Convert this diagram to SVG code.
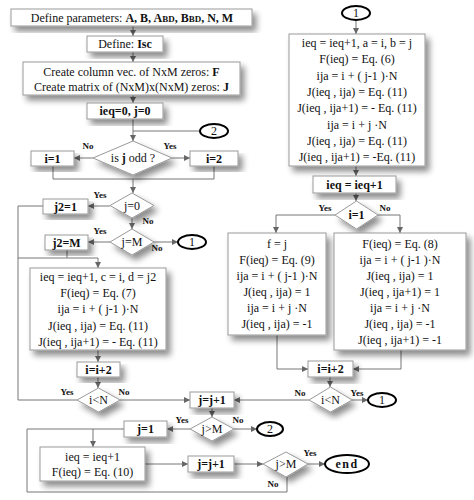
<svg xmlns="http://www.w3.org/2000/svg" width="474" height="500" viewBox="0 0 474 500">
<defs>
<filter id="sh" x="-20%" y="-20%" width="150%" height="160%">
<feGaussianBlur in="SourceAlpha" stdDeviation="3"/>
<feOffset dx="4" dy="5" result="o"/>
<feComponentTransfer><feFuncA type="linear" slope="0.45"/></feComponentTransfer>
<feMerge><feMergeNode/><feMergeNode in="SourceGraphic"/></feMerge>
</filter>
<marker id="ar" markerUnits="userSpaceOnUse" markerWidth="7" markerHeight="7" refX="6" refY="3" orient="auto">
<path d="M0,0 L6,3 L0,6 Z" fill="#666"/>
</marker>
<style>
.b{fill:#fff;stroke:#999;stroke-width:1;filter:url(#sh)}
.c{fill:#fff;stroke:#000;stroke-width:2}
.t{font-family:"Liberation Serif","Times New Roman",serif;font-size:12px;text-anchor:middle;fill:#111}
.bd{font-weight:bold}
.yn{font-family:"Liberation Serif","Times New Roman",serif;font-size:9px;font-weight:bold;text-anchor:middle;fill:#111}
.ln{stroke:#777;stroke-width:1;fill:none}
.a{marker-end:url(#ar)}
</style>
</defs>
<rect width="474" height="500" fill="#fff"/>

<g id="connectors">
<path class="ln a" d="M133,26 V36"/>
<path class="ln a" d="M133,52 V62"/>
<path class="ln a" d="M133,95 V103"/>
<path class="ln a" d="M133,119 V141"/>
<path class="ln" d="M200,131 H133"/>
<path class="ln a" d="M93,158 H74"/>
<path class="ln a" d="M172,158 H190"/>
<path class="ln" d="M53,166 V179 H214 V166"/>
<path class="ln a" d="M133,179 V193"/>
<path class="ln a" d="M110,206 H88"/>
<path class="ln a" d="M132,218 V229"/>
<path class="ln a" d="M110,242 H88"/>
<path class="ln a" d="M154,242 H178"/>
<path class="ln" d="M43,206 H18 V400 H77"/>
<path class="ln" d="M67,250 V258 M18,258 H98"/>
<path class="ln a" d="M98,258 V268"/>
<path class="ln a" d="M98,350 V362"/>
<path class="ln a" d="M98,377 V388"/>
<path class="ln a" d="M120,400 H190"/>
<path class="ln a" d="M309,400 H234"/>
<path class="ln a" d="M212,408 V417"/>
<path class="ln a" d="M234,429 H257"/>
<path class="ln a" d="M190,429 H167"/>
<path class="ln" d="M124,429 H27 V492 H287 V477"/>
<path class="ln a" d="M93,429 V447"/>
<path class="ln a" d="M145,464 H188"/>
<path class="ln a" d="M234,464 H263"/>
<path class="ln a" d="M308,464 H325"/>
<path class="ln a" d="M356,20 V34"/>
<path class="ln a" d="M356,166 V176"/>
<path class="ln a" d="M356,193 V201"/>
<path class="ln a" d="M335,215 H276 V233"/>
<path class="ln a" d="M378,215 H400 V233"/>
<path class="ln a" d="M277,335 V369 H308"/>
<path class="ln a" d="M401,350 V369 H353"/>
<path class="ln a" d="M330,377 V387"/>
<path class="ln a" d="M352,400 H368"/>
</g>

<g id="n-define-params">
<rect class="b" x="11" y="9" width="241" height="17"/>
<text class="t" x="132" y="21.5">Define parameters: <tspan class="bd">A, B, A<tspan font-size="9">BD</tspan>, B<tspan font-size="9">BD</tspan>, N, M</tspan></text>
</g>
<g id="n-define-isc">
<rect class="b" x="87" y="36" width="76" height="16"/>
<text class="t" x="125" y="48">Define: <tspan class="bd">Isc</tspan></text>
</g>
<g id="n-create">
<rect class="b" x="23" y="62" width="217" height="33"/>
<text class="t" x="131.5" y="76">Create column vec. of NxM zeros: <tspan class="bd">F</tspan></text>
<text class="t" x="131.5" y="91">Create matrix of (NxM)x(NxM) zeros: <tspan class="bd">J</tspan></text>
</g>
<g id="n-init">
<rect class="b" x="87" y="103" width="76" height="16"/>
<text class="t bd" x="125" y="115">ieq=0, j=0</text>
</g>
<g id="c-2-top">
<ellipse class="c" cx="214" cy="131" rx="14" ry="7"/>
<text class="t" x="214" y="135">2</text>
</g>
<g id="d-odd">
<polygon class="b" points="93,158 133,141 172,158 133,175"/>
<text class="t" x="133" y="162">is <tspan class="bd">j</tspan> odd ?</text>
</g>
<g id="n-i1">
<rect class="b" x="31" y="151" width="43" height="15"/>
<text class="t bd" x="52.5" y="162.5">i=1</text>
</g>
<g id="n-i2">
<rect class="b" x="190" y="151" width="48" height="15"/>
<text class="t bd" x="214" y="162.5">i=2</text>
</g>
<g id="d-j0">
<polygon class="b" points="110,205.5 132,193 154,205.5 132,218"/>
<text class="t" x="132" y="209.5">j=0</text>
</g>
<g id="n-j2-1">
<rect class="b" x="43" y="199" width="45" height="15"/>
<text class="t bd" x="65.5" y="210.5">j2=1</text>
</g>
<g id="d-jM">
<polygon class="b" points="110,242 132,229 154,242 132,255"/>
<text class="t" x="132" y="246">j=M</text>
</g>
<g id="n-j2-M">
<rect class="b" x="45" y="235" width="43" height="15"/>
<text class="t bd" x="66.5" y="246.5">j2=M</text>
</g>
<g id="c-1-a">
<ellipse class="c" cx="192" cy="242" rx="14" ry="7"/>
<text class="t" x="192" y="246">1</text>
</g>
<g id="n-eq7">
<rect class="b" x="30" y="268" width="136" height="82"/>
<text class="t" x="98" y="281">ieq = ieq+1, c = i, d = j2</text>
<text class="t" x="98" y="297">F(ieq) = Eq. (7)</text>
<text class="t" x="98" y="313">ija = i + ( j-1 )·N</text>
<text class="t" x="98" y="330">J(ieq , ija) = Eq. (11)</text>
<text class="t" x="98" y="346">J(ieq , ija+1) = - Eq. (11)</text>
</g>
<g id="n-ii2-left">
<rect class="b" x="77" y="362" width="43" height="15"/>
<text class="t bd" x="98.5" y="373.5">i=i+2</text>
</g>
<g id="d-iN-left">
<polygon class="b" points="77,400 98.5,388 120,400 98.5,412"/>
<text class="t" x="98.5" y="404">i&lt;N</text>
</g>
<g id="n-jj1-a">
<rect class="b" x="190" y="392" width="44" height="16"/>
<text class="t bd" x="212" y="404">j=j+1</text>
</g>
<g id="d-jgM-a">
<polygon class="b" points="190,429 212,417 234,429 212,441"/>
<text class="t" x="212" y="433">j&gt;M</text>
</g>
<g id="c-2-b">
<ellipse class="c" cx="270" cy="429" rx="13" ry="7"/>
<text class="t" x="270" y="433">2</text>
</g>
<g id="n-j1">
<rect class="b" x="124" y="421" width="43" height="16"/>
<text class="t bd" x="145.5" y="433">j=1</text>
</g>
<g id="n-eq10">
<rect class="b" x="40" y="447" width="105" height="34"/>
<text class="t" x="92.5" y="461">ieq = ieq+1</text>
<text class="t" x="92.5" y="476">F(ieq) = Eq. (10)</text>
</g>
<g id="n-jj1-b">
<rect class="b" x="188" y="456" width="46" height="16"/>
<text class="t bd" x="211" y="468">j=j+1</text>
</g>
<g id="d-jgM-b">
<polygon class="b" points="263,464 286,452 308,464 286,477"/>
<text class="t" x="286" y="468">j&gt;M</text>
</g>
<g id="c-end">
<ellipse class="c" cx="347" cy="464" rx="22" ry="9"/>
<text class="t bd" x="347" y="468" letter-spacing="1.5">end</text>
</g>

<g id="c-1-top">
<ellipse class="c" cx="356" cy="13" rx="14" ry="7"/>
<text class="t" x="356" y="17">1</text>
</g>
<g id="n-eq6">
<rect class="b" x="289" y="34" width="136" height="132"/>
<text class="t" x="357" y="47">ieq = ieq+1, a = i, b = j</text>
<text class="t" x="357" y="63">F(ieq) = Eq. (6)</text>
<text class="t" x="357" y="80">ija = i + ( j-1 )·N</text>
<text class="t" x="357" y="96">J(ieq , ija) = Eq. (11)</text>
<text class="t" x="357" y="112">J(ieq , ija+1) = - Eq. (11)</text>
<text class="t" x="357" y="128.5">ija = i + j ·N</text>
<text class="t" x="357" y="145">J(ieq , ija) = Eq. (11)</text>
<text class="t" x="357" y="161">J(ieq , ija+1) = -Eq. (11)</text>
</g>
<g id="n-ieq-right">
<rect class="b" x="313" y="176" width="83" height="17"/>
<text class="t bd" x="354.5" y="188.5">ieq = ieq+1</text>
</g>
<g id="d-i1">
<polygon class="b" points="335,215 356.5,201 378,215 356.5,229"/>
<text class="t bd" x="356.5" y="219">i=1</text>
</g>
<g id="n-eq9">
<rect class="b" x="228" y="233" width="98" height="102"/>
<text class="t" x="277" y="248">f = j</text>
<text class="t" x="277" y="264">F(ieq) = Eq. (9)</text>
<text class="t" x="277" y="280">ija = i + ( j-1 )·N</text>
<text class="t" x="277" y="296">J(ieq , ija) = 1</text>
<text class="t" x="277" y="312">ija = i + j ·N</text>
<text class="t" x="277" y="328">J(ieq , ija) = -1</text>
</g>
<g id="n-eq8">
<rect class="b" x="334" y="233" width="132" height="117"/>
<text class="t" x="400" y="248">F(ieq) = Eq. (8)</text>
<text class="t" x="400" y="264">ija = i + ( j-1 )·N</text>
<text class="t" x="400" y="280">J(ieq , ija) = 1</text>
<text class="t" x="400" y="296">J(ieq , ija+1) = 1</text>
<text class="t" x="400" y="312">ija = i + j ·N</text>
<text class="t" x="400" y="328">J(ieq , ija) = -1</text>
<text class="t" x="400" y="344">J(ieq , ija+1) = -1</text>
</g>
<g id="n-ii2-right">
<rect class="b" x="308" y="361" width="45" height="16"/>
<text class="t bd" x="330.5" y="373">i=i+2</text>
</g>
<g id="d-iN-right">
<polygon class="b" points="309,400 330.5,387 352,400 330.5,412"/>
<text class="t" x="330.5" y="404">i&lt;N</text>
</g>
<g id="c-1-b">
<ellipse class="c" cx="382" cy="400" rx="14" ry="7"/>
<text class="t" x="382" y="404">1</text>
</g>

<g id="labels">
<text class="yn" x="88" y="149">No</text>
<text class="yn" x="170" y="149">Yes</text>
<text class="yn" x="100" y="198">Yes</text>
<text class="yn" x="148" y="224">No</text>
<text class="yn" x="100" y="234">Yes</text>
<text class="yn" x="157" y="251">No</text>
<text class="yn" x="67" y="395">Yes</text>
<text class="yn" x="124" y="395">No</text>
<text class="yn" x="325" y="211">Yes</text>
<text class="yn" x="385" y="211">No</text>
<text class="yn" x="300" y="396">No</text>
<text class="yn" x="357" y="396">Yes</text>
<text class="yn" x="182" y="423">Yes</text>
<text class="yn" x="238" y="423">No</text>
<text class="yn" x="310" y="456">Yes</text>
<text class="yn" x="273" y="487">No</text>
</g>
</svg>
